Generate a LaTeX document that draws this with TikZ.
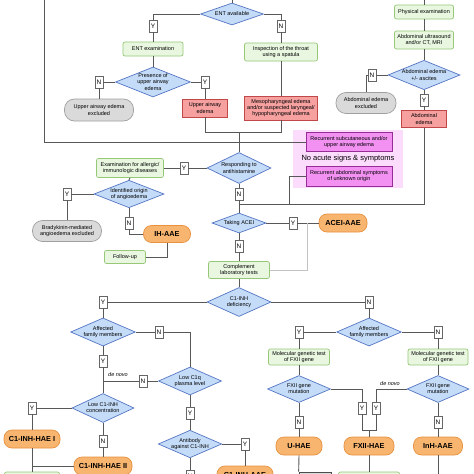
\documentclass[tikz,border=0pt]{standalone}
\usepackage{fontspec}
\setmainfont{Liberation Sans}
\usetikzlibrary{shapes.geometric}

\definecolor{linegray}{RGB}{88,88,88}
\definecolor{lightconn}{RGB}{195,195,195}
\definecolor{diafill}{RGB}{197,220,248}
\definecolor{diadraw}{RGB}{84,118,196}
\definecolor{testfill}{RGB}{233,247,224}
\definecolor{testdraw}{RGB}{150,200,120}
\definecolor{exclfill}{RGB}{218,218,218}
\definecolor{excldraw}{RGB}{160,160,160}
\definecolor{edemafill}{RGB}{246,160,160}
\definecolor{edemadraw}{RGB}{192,72,72}
\definecolor{recurfill}{RGB}{242,145,242}
\definecolor{recurdraw}{RGB}{150,45,150}
\definecolor{recurbg}{RGB}{252,220,252}
\definecolor{diagfill}{RGB}{247,181,112}
\definecolor{diagdraw}{RGB}{232,145,62}

\begin{document}
\begin{tikzpicture}[x=1pt, y=-1pt,
    conn/.style={draw=linegray, line width=0.9pt},
    box/.style={font=\fontsize{5.5}{6.1}\selectfont, align=center, inner sep=1pt, line width=0.7pt},
    dia/.style={box, shape=diamond, aspect=2.3, inner sep=0pt, draw=diadraw, fill=diafill},
    test/.style={box, rounded corners=2pt, draw=testdraw, fill=testfill},
    excl/.style={box, rounded corners=10pt, draw=excldraw, fill=exclfill},
    edema/.style={box, draw=edemadraw, fill=edemafill},
    recur/.style={box, draw=recurdraw, fill=recurfill},
    diag/.style={font=\fontsize{7.3}{8}\selectfont\bfseries, rounded corners=8pt, draw=diagdraw, fill=diagfill, line width=0.7pt},
    yn/.style={font=\fontsize{6.5}{7}\selectfont, draw=black!60, fill=white, inner sep=0pt, minimum width=8pt, minimum height=12pt, line width=0.6pt},
    sz/.style 2 args={minimum width=#1pt, minimum height=#2pt}]

    \path[use as bounding box, fill=white] (0,0) rectangle (474,474);
    \clip (0,0) rectangle (474,474);

    % Background of the recurrent symptoms group
    \fill[recurbg] (293,130) rectangle (403,188);

    % Upper airway branch
    \coordinate (frameTop) at (44,-5);
    \coordinate (entTop) at (232,-5);
    \node[dia, sz={63}{22}] (ent) at (232,14) {ENT available};
    \node[yn] (entY) at (153,26) {Y};
    \node[yn] (entN) at (281,26) {N};
    \node[test, sz={60}{14}] (entex) at (153,49) {ENT examination};
    \node[dia, sz={75}{30}] (pres) at (153,82) {Presence of\\upper airway\\edema};
    \node[yn] (presN) at (99,82) {N};
    \node[yn] (presY) at (205,82) {Y};
    \node[excl, sz={69}{22}] (uaexcl) at (99,110) {Upper airway edema\\excluded};
    \node[edema, sz={45}{18}] (uaed) at (205,108) {Upper airway\\edema};
    \node[test, sz={73}{18}] (insp) at (281,52) {Inspection of the throat\\using a spatula};
    \node[edema, sz={73}{24}] (meso) at (281,108) {Mesopharyngeal edema\\and/or suspected laryngeal/\\hypopharyngeal edema};
    \coordinate (j1) at (239,132);

    % Abdominal branch
    \coordinate (abdTop) at (424,-5);
    \node[test, sz={59}{14}] (phys) at (424,12) {Physical examination};
    \node[test, sz={59}{18}] (abdus) at (424,40) {Abdominal ultrasound\\and/or CT, MRI};
    \node[dia, sz={72}{28}] (abdd) at (424,75) {Abdominal edema\\+/- ascites};
    \node[yn] (abdN) at (372,75) {N};
    \node[excl, sz={60}{21}] (abdexcl) at (366,103) {Abdominal edema\\excluded};
    \node[yn] (abdY) at (424,100) {Y};
    \node[edema, sz={45}{17}] (abded) at (424,119) {Abdominal\\edema};

    % No acute signs
    \node[recur, sz={86}{19}] (rec1) at (349,142) {Recurrent subcutaneous and/or\\upper airway edema};
    \node[font=\fontsize{7.5}{8}\selectfont] (noacute) at (348,159) {No acute signs \& symptoms};
    \node[recur, sz={86}{20}] (rec2) at (349,176) {Recurrent abdominal symptoms\\of unknown origin};
    \coordinate (j2) at (289,204);
    \coordinate (j3) at (239,204);

    % Central column
    \node[dia, sz={64}{31}] (resp) at (239,168) {Responding to\\antihistamine};
    \node[yn] (respY) at (184,168) {Y};
    \node[test, sz={67}{19}] (allerg) at (130,168) {Examination for allergic/\\immunologic diseases};
    \node[dia, sz={70}{27}] (ident) at (129,194) {Identified origin\\of angioedema};
    \node[yn] (identY) at (67,194) {Y};
    \node[excl, sz={69}{21}] (brady) at (67,231) {Bradykinin-mediated\\angioedema excluded};
    \node[yn] (identN) at (129,223) {N};
    \node[diag, sz={47}{17}] (ihaae) at (167,234) {IH-AAE};
    \node[test, sz={41}{13}] (follow) at (125,257) {Follow-up};
    \node[yn] (respN) at (239,194) {N};
    \node[dia, sz={54}{20}] (acei) at (239,223) {Taking ACEI};
    \node[yn] (aceiY) at (293,223) {Y};
    \node[diag, sz={48}{18}] (aceiaae) at (343,223) {ACEI-AAE};
    \coordinate (jg) at (307,223);
    \node[yn] (aceiN) at (239,246) {N};
    \node[test, sz={61}{17}] (compl) at (239,270) {Complement\\laboratory tests};
    \node[dia, sz={64}{29}] (c1def) at (239,302) {C1-INH\\deficiency};
    \node[yn] (c1defY) at (103,302) {Y};
    \node[yn] (c1defN) at (369,302) {N};

    % C1-INH deficiency branch
    \node[dia, sz={63}{26}] (fam1) at (103,332) {Affected\\family members};
    \node[yn] (fam1N) at (159,332) {N};
    \node[yn] (fam1Y) at (103,361) {Y};
    \coordinate (j4) at (103,381);
    \node[dia, sz={63}{28}] (lowc1q) at (190,381) {Low C1q\\plasma level};
    \node[yn] (lowc1qN) at (143,381) {N};
    \node[font=\fontsize{5.5}{6}\selectfont\itshape] (denovoA) at (118,375) {de novo};
    \node[dia, sz={62}{29}] (lowinh) at (103,408) {Low C1-INH\\concentration};
    \node[yn] (lowinhY) at (32,408) {Y};
    \node[diag, sz={56}{18}] (hae1) at (32,439) {C1-INH-HAE I};
    \node[yn] (lowinhN) at (103,441) {N};
    \node[diag, sz={58}{18}] (hae2) at (103,466) {C1-INH-HAE II};
    \coordinate (j5) at (32,466);
    \node[test, sz={55}{18}] (hae1box) at (32,481) {};
    \node[yn] (lowc1qY) at (190,413) {Y};
    \node[dia, sz={63}{27}] (antib) at (190,444) {Antibody\\against C1-INH};
    \node[yn] (antibY) at (245,444) {Y};
    \node[diag, sz={56}{18}] (aae) at (245,475) {C1-INH-AAE};
    \node[yn] (antibN) at (190,476) {N};

    % Normal C1-INH branch
    \node[dia, sz={64}{25}] (fam2) at (369,332) {Affected\\family members};
    \node[yn] (fam2Y) at (299,332) {Y};
    \node[yn] (fam2N) at (438,332) {N};
    \node[test, sz={61}{16}] (mgt1) at (299,357) {Molecular genetic test\\of FXII gene};
    \node[test, sz={60}{16}] (mgt2) at (438,357) {Molecular genetic test\\of FXII gene};
    \node[dia, sz={63}{27}] (fx1) at (299,389) {FXII gene\\mutation};
    \node[dia, sz={62}{27}] (fx2) at (438,389) {FXII gene\\mutation};
    \node[font=\fontsize{5.5}{6}\selectfont\itshape] (denovoB) at (390,384) {de novo};
    \node[yn] (fx1Y) at (362,408) {Y};
    \node[yn] (fx2Y) at (376,408) {Y};
    \coordinate (j6) at (369,430);
    \node[yn] (fx1N) at (299,422) {N};
    \node[yn] (fx2N) at (438,422) {N};
    \node[diag, sz={46}{18}] (uhae) at (299,446) {U-HAE};
    \node[diag, sz={50}{18}] (fxhae) at (369,446) {FXII-HAE};
    \node[diag, sz={49}{18}] (inhaae) at (438,446) {InH-AAE};
    \node[box, draw=black!70, fill=exclfill, sz={32}{18}] (ubox) at (315,481) {};
    \node[test, sz={61}{18}] (fxbox) at (369,481) {};
    \coordinate (inhBot) at (438,480);

    % Connectors
    \draw[conn] (entTop) -- (ent.north);
    \draw[conn] (ent.west) -| (entY.north);
    \draw[conn] (entY.south) -- (entex.north);
    \draw[conn] (entex.south) -- (pres.north);
    \draw[conn] (pres.west) -- (presN.east);
    \draw[conn] (presN.south) -- (uaexcl.north);
    \draw[conn] (pres.east) -- (presY.west);
    \draw[conn] (presY.south) -- (uaed.north);
    \draw[conn] (ent.east) -| (entN.north);
    \draw[conn] (entN.south) -- (insp.north);
    \draw[conn] (insp.south) -- (meso.north);
    \draw[conn] (uaed.south) |- (j1);
    \draw[conn] (meso.south) |- (j1);
    \draw[conn] (j1) -- (resp.north);
    \draw[conn] (frameTop) |- (rec1.west);

    \draw[conn] (abdTop) -- (phys.north);
    \draw[conn] (phys.south) -- (abdus.north);
    \draw[conn] (abdus.south) -- (abdd.north);
    \draw[conn] (abdd.west) -- (abdN.east);
    \draw[conn] (abdN.west) -| (abdexcl.north);
    \draw[conn] (abdd.south) -- (abdY.north);
    \draw[conn] (abdY.south) -- (abded.north);
    \draw[conn] (abded.south) |- (j3);
    \draw[conn] (rec2.west) -| (j2);

    \draw[conn] (resp.west) -- (respY.east);
    \draw[conn] (respY.west) -- (allerg.east);
    \draw[conn] (allerg.south) -- (ident.north);
    \draw[conn] (ident.west) -- (identY.east);
    \draw[conn] (identY.south) -- (brady.north);
    \draw[conn] (ident.south) -- (identN.north);
    \draw[conn] (identN.south) |- (ihaae.west);
    \draw[conn] (ihaae.south) |- (follow.east);
    \draw[conn] (resp.south) -- (respN.north);
    \draw[conn] (respN.south) -- (acei.north);
    \draw[conn] (acei.east) -- (aceiY.west);
    \draw[conn] (aceiY.east) -- (aceiaae.west);
    \draw[conn, draw=lightconn] (jg) |- (compl.east);
    \draw[conn] (acei.south) -- (aceiN.north);
    \draw[conn] (aceiN.south) -- (compl.north);
    \draw[conn] (compl.south) -- (c1def.north);
    \draw[conn] (c1def.west) -- (c1defY.east);
    \draw[conn] (c1defY.south) -- (fam1.north);
    \draw[conn] (c1def.east) -- (c1defN.west);
    \draw[conn] (c1defN.south) -- (fam2.north);

    \draw[conn] (fam1.east) -- (fam1N.west);
    \draw[conn] (fam1N.east) -| (lowc1q.north);
    \draw[conn] (fam1.south) -- (fam1Y.north);
    \draw[conn] (fam1Y.south) -- (lowinh.north);
    \draw[conn] (lowc1q.west) -- (lowc1qN.east);
    \draw[conn] (lowc1qN.west) -- (j4);
    \draw[conn] (lowinh.west) -- (lowinhY.east);
    \draw[conn] (lowinhY.south) -- (hae1.north);
    \draw[conn] (lowinh.south) -- (lowinhN.north);
    \draw[conn] (lowinhN.south) -- (hae2.north);
    \draw[conn] (hae1.south) -- (hae1box.north);
    \draw[conn] (j5) -- (hae2.west);
    \draw[conn] (lowc1q.south) -- (lowc1qY.north);
    \draw[conn] (lowc1qY.south) -- (antib.north);
    \draw[conn] (antib.east) -- (antibY.west);
    \draw[conn] (antibY.south) -- (aae.north);
    \draw[conn] (antib.south) -- (antibN.north);

    \draw[conn] (fam2.west) -- (fam2Y.east);
    \draw[conn] (fam2Y.south) -- (mgt1.north);
    \draw[conn] (fam2.east) -- (fam2N.west);
    \draw[conn] (fam2N.south) -- (mgt2.north);
    \draw[conn] (mgt1.south) -- (fx1.north);
    \draw[conn] (mgt2.south) -- (fx2.north);
    \draw[conn] (fx1.east) -| (fx1Y.north);
    \draw[conn] (fx2.west) -| (fx2Y.north);
    \draw[conn] (fx1Y.south) |- (j6);
    \draw[conn] (fx2Y.south) |- (j6);
    \draw[conn] (j6) -- (fxhae.north);
    \draw[conn] (fx1.south) -- (fx1N.north);
    \draw[conn] (fx1N.south) -- (uhae.north);
    \draw[conn] (fx2.south) -- (fx2N.north);
    \draw[conn] (fx2N.south) -- (inhaae.north);
    \draw[conn] (uhae.south) -- (ubox.north west);
    \draw[conn] (fxhae.south) -- (fxbox.north);
    \draw[conn] (inhaae.south) -- (inhBot);

\end{tikzpicture}
\end{document}
